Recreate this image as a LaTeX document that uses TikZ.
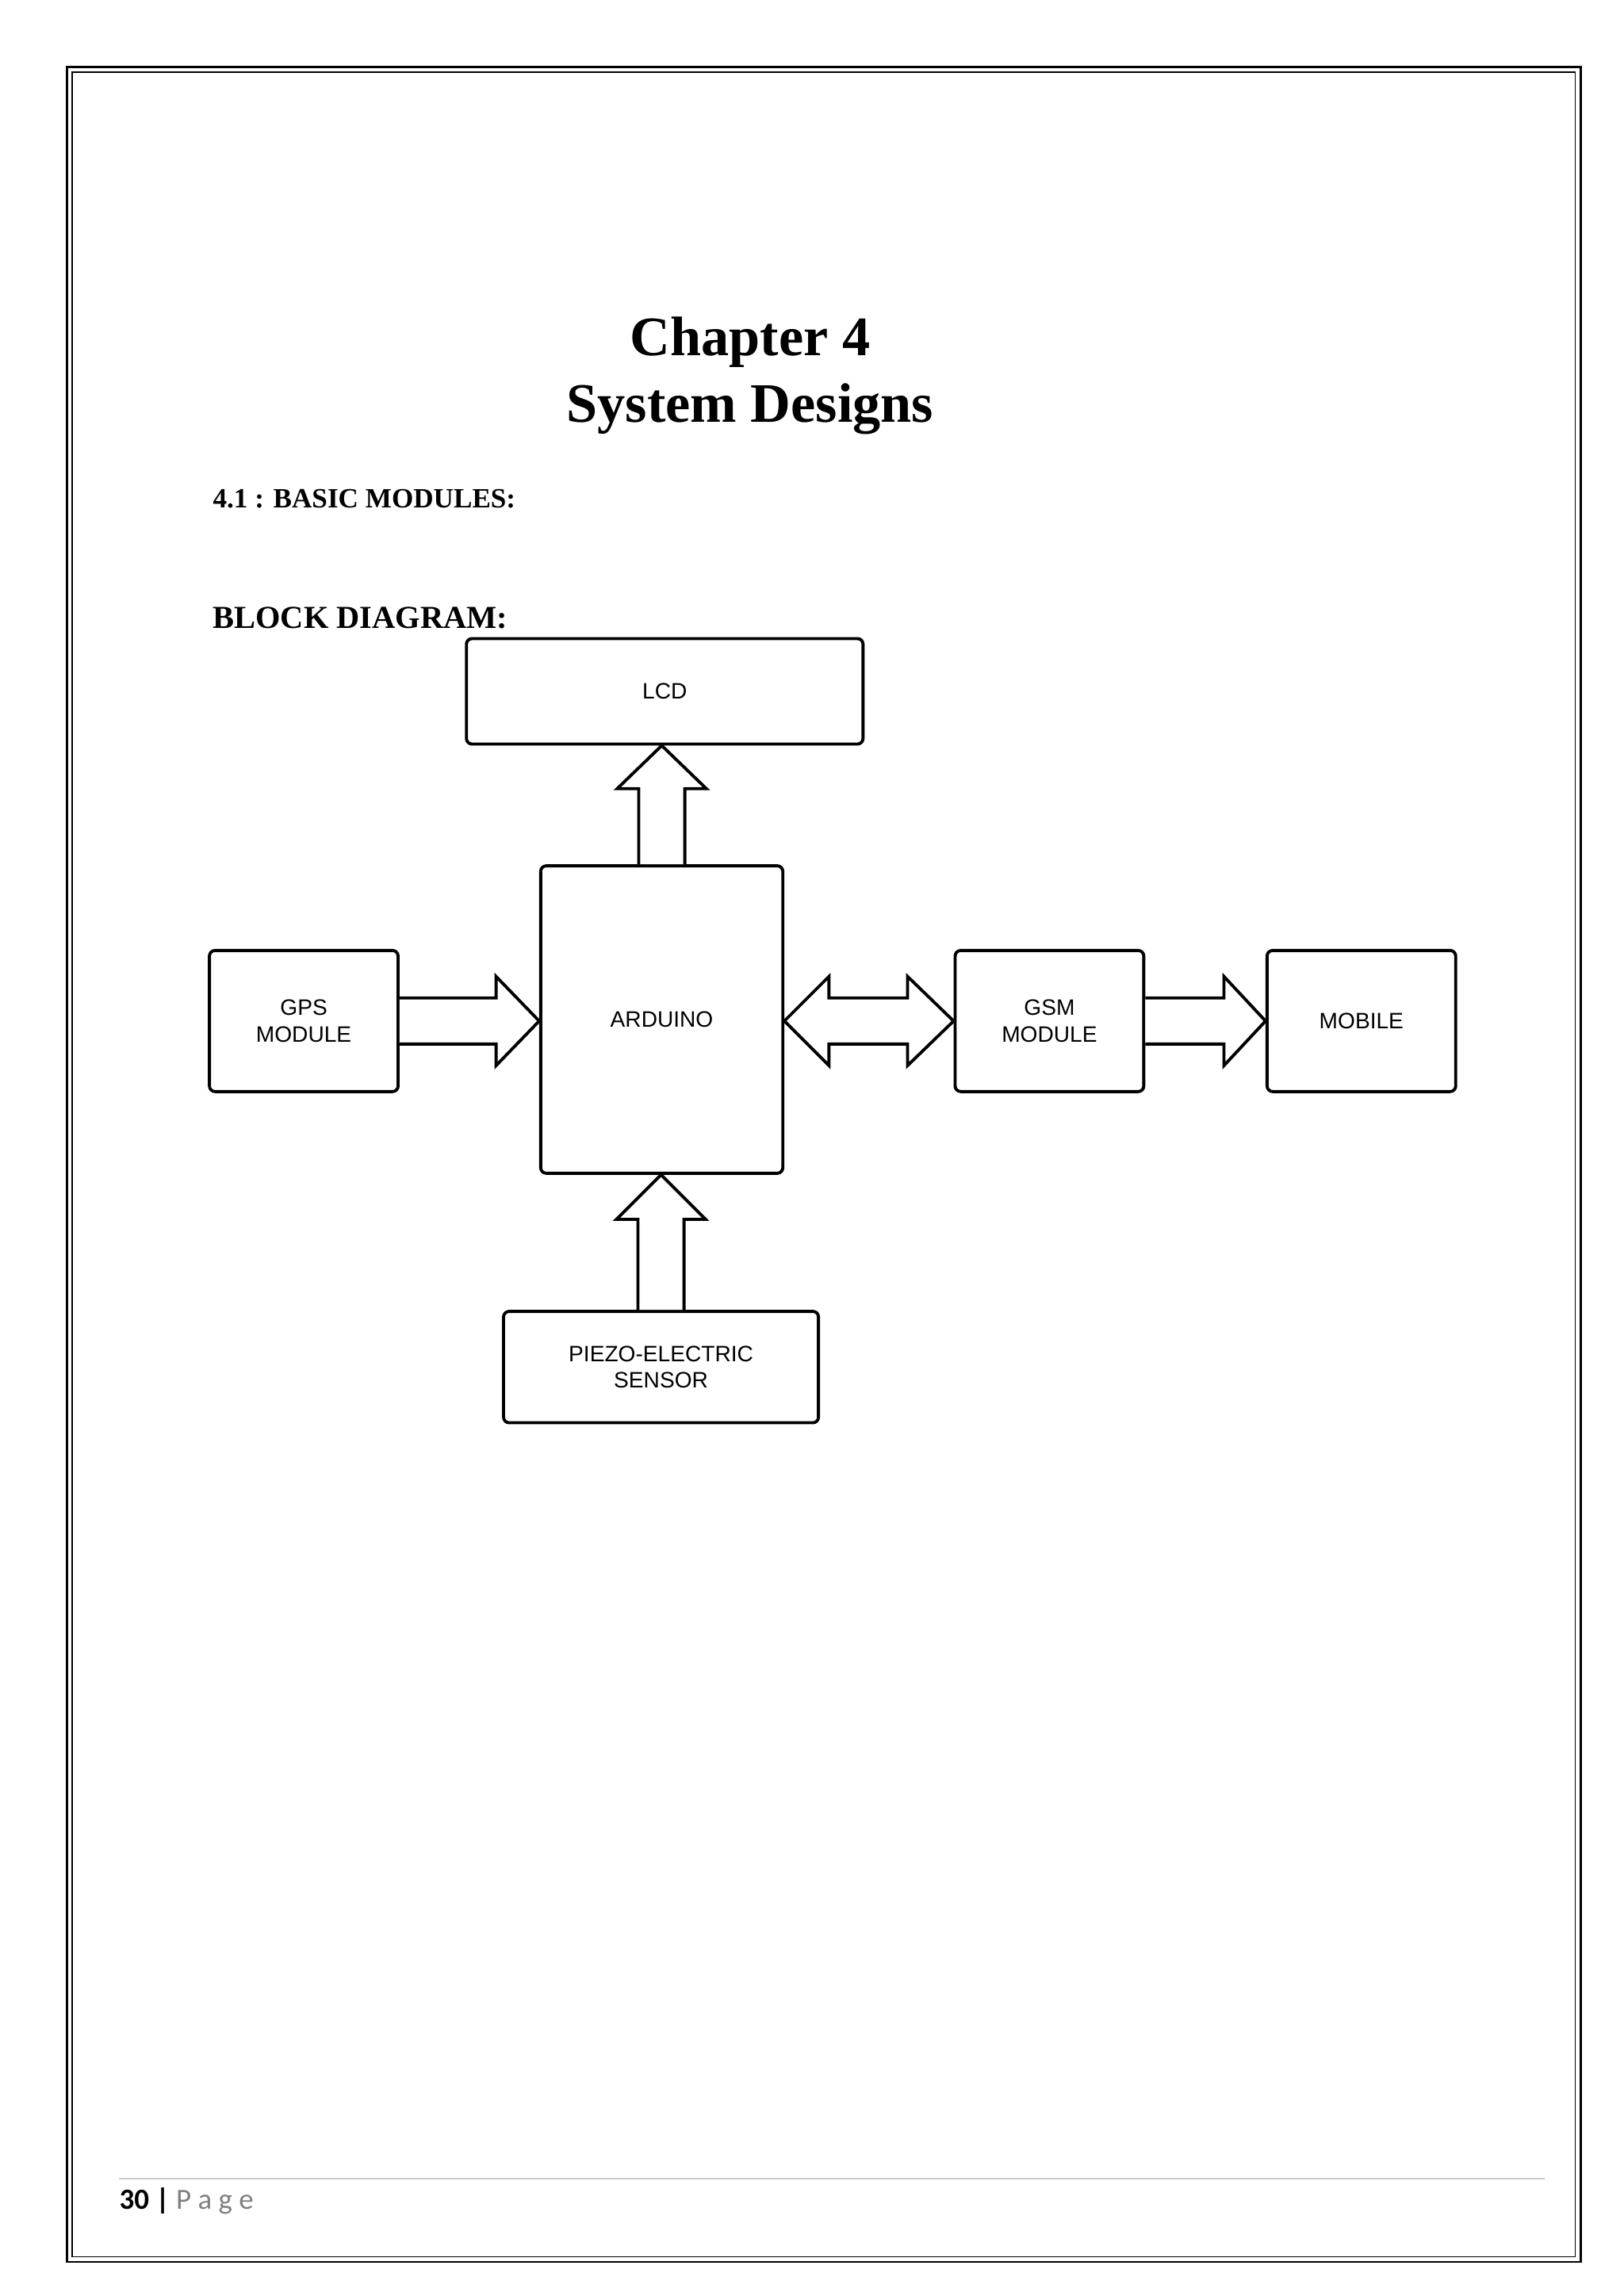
\documentclass[tikz,border=0pt]{standalone}
\usepackage{fontspec}
\setmainfont{Liberation Serif}
\newfontfamily\lsans{Liberation Sans}
\newfontfamily\csans{Carlito}
\usetikzlibrary{calc}
\newcommand{\uu}{0.018737cm}
\begin{document}
\begin{tikzpicture}[x=\uu,y=-\uu,
  box/.style={draw,line width=1.1pt,rounded corners=2pt,font=\lsans\fontsize{8}{9.5}\selectfont,align=center,inner sep=0pt},
  blk/.style={draw,line width=1.1pt,line join=miter,fill=white}]
\useasboundingbox (0,0) rectangle (1093,1546);
\fill[white] (0,0) rectangle (1093,1546);
\draw[line width=0.8pt] (45,45) rectangle (1064,1523);
\draw[line width=0.4pt] (48.5,48.5) rectangle (1060.5,1519.5);
\node[font=\bfseries\fontsize{20}{24}\selectfont,align=center] (title) at (505,253) {Chapter 4\\System Designs};
\node[font=\bfseries\fontsize{10}{12}\selectfont,anchor=west,inner sep=0] (sec) at (143,336) {4.1 : BASIC MODULES:};
\node[font=\bfseries\fontsize{11.5}{13}\selectfont,anchor=west,inner sep=0] (bd) at (143,416) {BLOCK DIAGRAM:};
\node[box,minimum width=267*\uu,minimum height=71*\uu] (lcd) at (447.5,465.5) {LCD};
\node[box,minimum width=163*\uu,minimum height=207*\uu] (ard) at (445.5,686.5) {ARDUINO};
\node[box,minimum width=127*\uu,minimum height=95*\uu] (gps) at (204.5,687.5) {GPS\\MODULE};
\node[box,minimum width=127*\uu,minimum height=95*\uu] (gsm) at (706.5,687.5) {GSM\\MODULE};
\node[box,minimum width=127*\uu,minimum height=95*\uu] (mob) at (916.5,687.5) {MOBILE};
\node[box,minimum width=212*\uu,minimum height=75*\uu] (pz) at (445,920.5) {PIEZO-ELECTRIC\\SENSOR};
% up arrow Arduino -> LCD
\coordinate (t1) at (lcd.south -| ard.north);
\draw[blk] ($(ard.north)+(-15.5,0)$) -- ($(t1)+(-15.5,29)$) -- ($(t1)+(-30,29)$) -- (t1) -- ($(t1)+(30,29)$) -- ($(t1)+(15.5,29)$) -- ($(ard.north)+(15.5,0)$);
% up arrow Piezo -> Arduino
\coordinate (t2) at (ard.south -| pz.north);
\draw[blk] ($(pz.north)+(-15.5,0)$) -- ($(t2)+(-15.5,30)$) -- ($(t2)+(-30,30)$) -- (t2) -- ($(t2)+(30,30)$) -- ($(t2)+(15.5,30)$) -- ($(pz.north)+(15.5,0)$);
% GPS -> Arduino
\coordinate (t3) at (ard.west |- gps.east);
\draw[blk] ($(gps.east)+(0,-15.5)$) -- ($(t3)+(-29,-15.5)$) -- ($(t3)+(-29,-30)$) -- (t3) -- ($(t3)+(-29,30)$) -- ($(t3)+(-29,15.5)$) -- ($(gps.east)+(0,15.5)$);
% GSM -> Mobile
\draw[blk] ($(gsm.east)+(0,-15.5)$) -- ($(mob.west)+(-28,-15.5)$) -- ($(mob.west)+(-28,-30)$) -- (mob.west) -- ($(mob.west)+(-28,30)$) -- ($(mob.west)+(-28,15.5)$) -- ($(gsm.east)+(0,15.5)$);
% Arduino <-> GSM
\coordinate (t4) at (ard.east |- gsm.west);
\draw[blk] (t4) -- ($(t4)+(30,-30)$) -- ($(t4)+(30,-15.5)$) -- ($(gsm.west)+(-31,-15.5)$) -- ($(gsm.west)+(-31,-30)$) -- (gsm.west) -- ($(gsm.west)+(-31,30)$) -- ($(gsm.west)+(-31,15.5)$) -- ($(t4)+(30,15.5)$) -- ($(t4)+(30,30)$) -- cycle;
% footer
\draw[gray!40,line width=0.5pt] (80,1467) -- (1040,1467);
\node[anchor=west,inner sep=0,font=\csans\fontsize{10.5}{12}\selectfont] (pg) at (80,1482) {\textbf{30 |} \textcolor{gray}{P a g e}};
\end{tikzpicture}
\end{document}
